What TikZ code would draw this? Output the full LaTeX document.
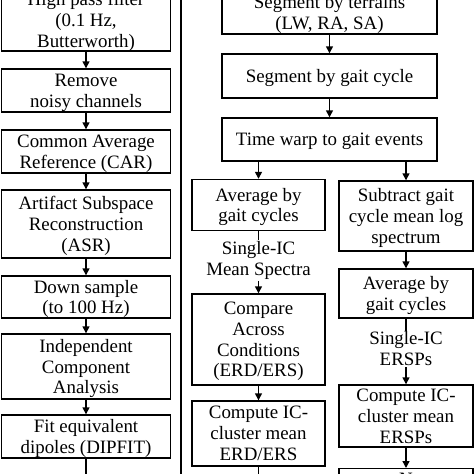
\documentclass[tikz,border=0pt]{standalone}
\usepackage{fontspec}
\setmainfont{Liberation Serif}
\usepackage{tikz}
\usetikzlibrary{arrows.meta}

\begin{document}
\begin{tikzpicture}[x=1pt, y=-1pt, >={Triangle[length=7pt, width=7pt]},
    stage/.style={draw, line width=1.4pt, align=center, inner sep=0pt, text depth=0pt,
        font=\fontsize{18.9}{20.8}\selectfont},
    note/.style={align=center, inner sep=1pt, font=\fontsize{18.9}{21}\selectfont},
    flow/.style={->, line width=1.4pt}]
    \useasboundingbox (0,0) rectangle (474,474);
    \clip (0,0) rectangle (474,474);

    % preprocessing column
    \node[stage, minimum width=169pt, minimum height=62pt] (hpf) at (86,20) {High pass filter\\(0.1 Hz,\\Butterworth)};
    \node[stage, minimum width=169pt, minimum height=43pt] (noisy) at (86,90.5) {Remove\\noisy channels};
    \node[stage, minimum width=169pt, minimum height=43pt] (car) at (86,151.5) {Common Average\\Reference (CAR)};
    \node[stage, minimum width=169pt, minimum height=68pt] (asr) at (86,224) {Artifact Subspace\\Reconstruction\\(ASR)};
    \node[stage, minimum width=169pt, minimum height=42pt] (down) at (86,297) {Down sample\\(to 100 Hz)};
    \node[stage, minimum width=169pt, minimum height=65pt] (ica) at (86,366.5) {Independent\\Component\\Analysis};
    \node[stage, minimum width=169pt, minimum height=43pt] (dip) at (86,436.5) {Fit equivalent\\dipoles (DIPFIT)};
    \coordinate (leftend) at (86,486);

    \draw[line width=1.6pt] (181,-5) -- (181,480);

    % segmentation
    \node[stage, minimum width=215pt, minimum height=43pt] (terr) at (329.5,12.5) {Segment by terrains\\(LW, RA, SA)};
    \node[stage, minimum width=215pt, minimum height=44pt] (cycle) at (329.5,76) {Segment by gait cycle};
    \node[stage, minimum width=215pt, minimum height=43pt] (warp) at (329.5,139.5) {Time warp to gait events};

    % spectra branch
    \node[stage, minimum width=133pt, minimum height=51pt] (avgL) at (258.5,205) {Average by\\gait cycles};
    \node[note] (specL) at (258.5,260.5) {Single-IC\\Mean Spectra};
    \node[stage, minimum width=133pt, minimum height=91pt] (erd) at (258.5,339.5) {Compare\\Across\\Conditions\\(ERD/ERS)};
    \node[stage, minimum width=133pt, minimum height=65pt] (clusL) at (258.5,433.5) {Compute IC-\\cluster mean\\ERD/ERS};
    \coordinate (midend) at (258.5,486);

    % ERSP branch
    \node[stage, minimum width=134pt, minimum height=70pt] (sub) at (406,216) {Subtract gait\\cycle mean log\\spectrum};
    \node[stage, minimum width=134pt, minimum height=49pt] (avgR) at (406,293.5) {Average by\\gait cycles};
    \node[note] (ersp) at (406,349) {Single-IC\\ERSPs};
    \node[stage, minimum width=134pt, minimum height=62pt] (clusR) at (406,416) {Compute IC-\\cluster mean\\ERSPs};
    \node[stage, minimum width=134pt, anchor=north, inner ysep=4pt] (nextR) at (406,468) {N};

    \draw[flow] (hpf.south) -- (noisy.north);
    \draw[flow] (noisy.south) -- (car.north);
    \draw[flow] (car.south) -- (asr.north);
    \draw[flow] (asr.south) -- (down.north);
    \draw[flow] (down.south) -- (ica.north);
    \draw[flow] (ica.south) -- (dip.north);
    \draw[flow] (dip.south) -- (leftend);

    \draw[flow] (terr.south) -- (cycle.north);
    \draw[flow] (cycle.south) -- (warp.north);
    \draw[flow] (warp.south -| avgL.north) -- (avgL.north);
    \draw[flow] (warp.south -| sub.north) -- (sub.north);

    \draw[line width=1.4pt] (avgL.south) -- (specL.north);
    \draw[flow] (specL.south) -- (erd.north);
    \draw[flow] (erd.south) -- (clusL.north);
    \draw[line width=1.4pt] (clusL.south) -- (midend);

    \draw[flow] (sub.south) -- (avgR.north);
    \draw[line width=1.4pt] (avgR.south) -- (ersp.north);
    \draw[flow] (ersp.south) -- (clusR.north);
    \draw[flow] (clusR.south) -- (nextR.north);
\end{tikzpicture}
\end{document}
